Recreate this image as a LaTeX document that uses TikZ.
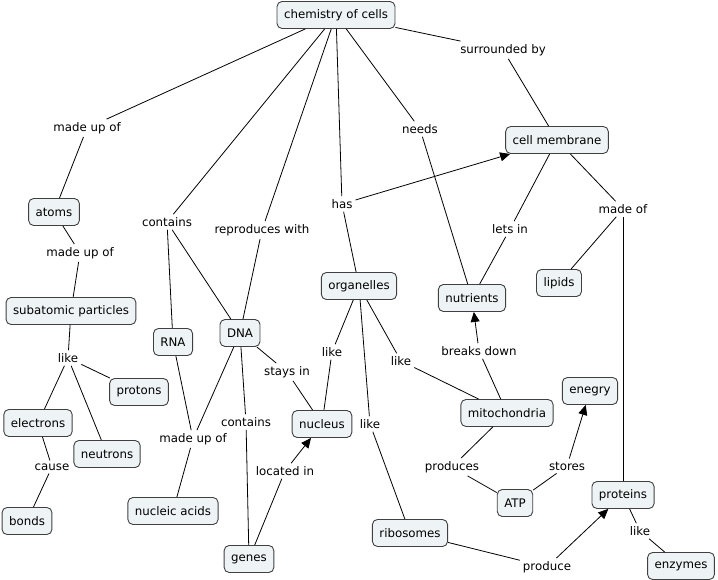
\documentclass[tikz,border=0pt]{standalone}
\usepackage{fontspec}
\setmainfont{DejaVu Sans}
\usetikzlibrary{arrows.meta}
\definecolor{conceptfill}{RGB}{238,243,245}
\tikzset{
  concept/.style={draw=black!75, fill=conceptfill, rounded corners=5pt, line width=0.9pt,
    minimum height=27pt, inner xsep=7pt, font=\fontsize{11.8}{14}\selectfont},
  linkword/.style={inner sep=3pt, font=\fontsize{11.8}{14}\selectfont},
  link/.style={line width=0.8pt},
  linkto/.style={link, -{Triangle[length=10pt,width=9pt]}},
}
\begin{document}
\begin{tikzpicture}[x=1pt,y=-1pt]
  \useasboundingbox (0,0) rectangle (718,580);
  % concepts
  \node[concept] (chem) at (336,15) {chemistry of cells};
  \node[concept] (membrane) at (557,140) {cell membrane};
  \node[concept] (atoms) at (54,212) {atoms};
  \node[concept] (subatomic) at (71,311) {subatomic particles};
  \node[concept] (rna) at (173,342) {RNA};
  \node[concept] (dna) at (240,333) {DNA};
  \node[concept] (organelles) at (359,286) {organelles};
  \node[concept] (nutrients) at (472,298) {nutrients};
  \node[concept] (lipids) at (559,283) {lipids};
  \node[concept] (protons) at (139,392) {protons};
  \node[concept] (electrons) at (38,423) {electrons};
  \node[concept] (neutrons) at (107,454) {neutrons};
  \node[concept] (bonds) at (27,521) {bonds};
  \node[concept] (nucleus) at (322,424) {nucleus};
  \node[concept] (mito) at (507,413) {mitochondria};
  \node[concept] (energy) at (590,391) {enegry};
  \node[concept] (atp) at (515,503) {ATP};
  \node[concept] (proteins) at (623,495) {proteins};
  \node[concept] (enzymes) at (681,566) {enzymes};
  \node[concept] (nucleic) at (173,511) {nucleic acids};
  \node[concept] (genes) at (249,559) {genes};
  \node[concept] (ribosomes) at (410,533) {ribosomes};
  % linking phrases
  \node[linkword] (madeupA) at (87,128) {made up of};
  \node[linkword] (containsA) at (167,222) {contains};
  \node[linkword] (reproduces) at (262,230) {reproduces with};
  \node[linkword] (has) at (342,204) {has};
  \node[linkword] (needs) at (420,129) {needs};
  \node[linkword] (surrounded) at (503,50) {surrounded by};
  \node[linkword] (madeupB) at (80,253) {made up of};
  \node[linkword] (likeA) at (68,358) {like};
  \node[linkword] (cause) at (52,467) {cause};
  \node[linkword] (madeupC) at (193,439) {made up of};
  \node[linkword] (containsB) at (246,422) {contains};
  \node[linkword] (staysin) at (287,372) {stays in};
  \node[linkword] (locatedin) at (285,471) {located in};
  \node[linkword] (likeB) at (332,352) {like};
  \node[linkword] (likeC) at (370,424) {like};
  \node[linkword] (likeD) at (401,361) {like};
  \node[linkword] (letsin) at (510,229) {lets in};
  \node[linkword] (madeof) at (623,209) {made of};
  \node[linkword] (breaks) at (479,351) {breaks down};
  \node[linkword] (produces) at (452,467) {produces};
  \node[linkword] (stores) at (567,466) {stores};
  \node[linkword] (produce) at (547,567) {produce};
  \node[linkword] (likeE) at (640,531) {like};
  % connections
  \draw[link] (chem) -- (madeupA) -- (atoms);
  \draw[link] (chem) -- (containsA) -- (rna);
  \draw[link] (containsA) -- (dna);
  \draw[link] (chem) -- (reproduces) -- (dna);
  \draw[link] (chem) -- (has) -- (organelles);
  \draw[linkto] (has) -- (membrane);
  \draw[link] (chem) -- (needs) -- (nutrients);
  \draw[link] (chem) -- (surrounded) -- (membrane);
  \draw[link] (atoms) -- (madeupB) -- (subatomic);
  \draw[link] (subatomic) -- (likeA) -- (protons);
  \draw[link] (likeA) -- (electrons);
  \draw[link] (likeA) -- (neutrons);
  \draw[link] (electrons) -- (cause) -- (bonds);
  \draw[link] (rna) -- (madeupC) -- (nucleic);
  \draw[link] (dna) -- (madeupC);
  \draw[link] (dna) -- (containsB) -- (genes);
  \draw[link] (dna) -- (staysin) -- (nucleus);
  \draw[link] (genes) -- (locatedin);
  \draw[linkto] (locatedin) -- (nucleus);
  \draw[link] (organelles) -- (likeB) -- (nucleus);
  \draw[link] (organelles) -- (likeC) -- (ribosomes);
  \draw[link] (organelles) -- (likeD) -- (mito);
  \draw[link] (membrane) -- (letsin) -- (nutrients);
  \draw[link] (membrane) -- (madeof) -- (lipids);
  \draw[link] (madeof) -- (proteins);
  \draw[link] (mito) -- (breaks);
  \draw[linkto] (breaks) -- (nutrients);
  \draw[link] (mito) -- (produces) -- (atp);
  \draw[link] (atp) -- (stores);
  \draw[linkto] (stores) -- (energy);
  \draw[link] (ribosomes) -- (produce);
  \draw[linkto] (produce) -- (proteins);
  \draw[link] (proteins) -- (likeE) -- (enzymes);
\end{tikzpicture}
\end{document}
